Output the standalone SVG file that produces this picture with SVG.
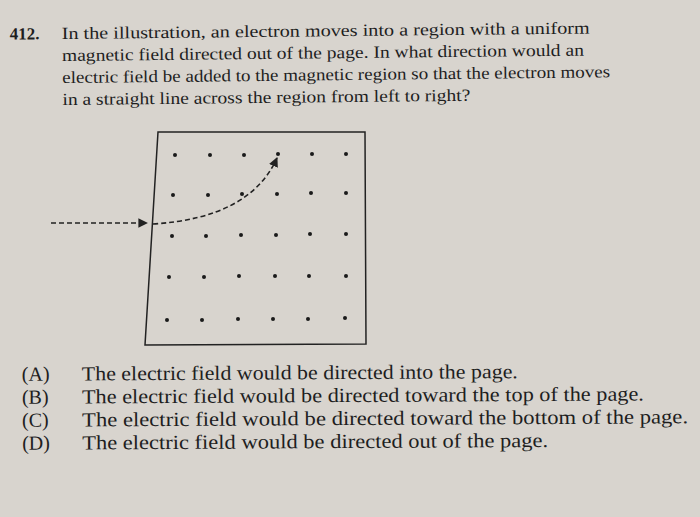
<svg xmlns="http://www.w3.org/2000/svg" width="700" height="517" viewBox="0 0 700 517">
<defs>
<style>
.q{font-family:"Liberation Serif",serif;font-size:17px;fill:#1e1e1e}
.a{font-family:"Liberation Serif",serif;font-size:20px;fill:#1e1e1e}
.d{fill:#1a1a1a}
.dash{fill:none;stroke:#222;stroke-width:1.6;stroke-dasharray:5,3}
</style>
<marker id="ah" viewBox="0 0 10 10" refX="9" refY="5" markerWidth="6" markerHeight="6" orient="auto"><path d="M0,0L10,5L0,10z" fill="#222"/></marker>
</defs>
<rect width="700" height="517" fill="#d8d4ce"/>
<g id="question" transform="rotate(-0.6 350 60)">
<text class="q" x="10" y="36" font-weight="bold">412.</text>
<text class="q" x="62" y="36" textLength="528" lengthAdjust="spacingAndGlyphs">In the illustration, an electron moves into a region with a uniform</text>
<text class="q" x="62" y="58" textLength="522" lengthAdjust="spacingAndGlyphs">magnetic field directed out of the page. In what direction would an</text>
<text class="q" x="62" y="80" textLength="548" lengthAdjust="spacingAndGlyphs">electric field be added to the magnetic region so that the electron moves</text>
<text class="q" x="62" y="102" textLength="408" lengthAdjust="spacingAndGlyphs">in a straight line across the region from left to right?</text>
</g>
<g id="region">
<polygon points="158,132 365,132 366,344 145,345" fill="none" stroke="#222" stroke-width="1.5"/>
<g class="d">
<circle cx="175" cy="155" r="2"/><circle cx="210" cy="155" r="2"/><circle cx="244" cy="155" r="2"/><circle cx="278" cy="154" r="2"/><circle cx="312" cy="154" r="2"/><circle cx="346" cy="154" r="2"/>
<circle cx="173" cy="195" r="2"/><circle cx="208" cy="195" r="2"/><circle cx="242" cy="194" r="2"/><circle cx="277" cy="194" r="2"/><circle cx="311" cy="193" r="2"/><circle cx="346" cy="193" r="2"/>
<circle cx="172" cy="236" r="2"/><circle cx="206" cy="236" r="2"/><circle cx="241" cy="235" r="2"/><circle cx="276" cy="235" r="2"/><circle cx="310" cy="234" r="2"/><circle cx="346" cy="234" r="2"/>
<circle cx="169" cy="277" r="2"/><circle cx="204" cy="277" r="2"/><circle cx="239" cy="276" r="2"/><circle cx="275" cy="276" r="2"/><circle cx="309" cy="276" r="2"/><circle cx="346" cy="276" r="2"/>
<circle cx="167" cy="320" r="2"/><circle cx="202" cy="320" r="2"/><circle cx="238" cy="319" r="2"/><circle cx="273" cy="319" r="2"/><circle cx="308" cy="319" r="2"/><circle cx="345" cy="318" r="2"/>
</g>
</g>
<g id="connectors">
<path class="dash" d="M51,223 L147,223" marker-end="url(#ah)"/>
<path class="dash" d="M153,224 Q250,218 277,158" marker-end="url(#ah)"/>
</g>
<g id="answers" transform="rotate(-0.3 350 410)">
<text class="a" x="22" y="379">(A)</text><text class="a" x="82" y="379" textLength="436" lengthAdjust="spacingAndGlyphs">The electric field would be directed into the page.</text>
<text class="a" x="22" y="402">(B)</text><text class="a" x="82" y="402" textLength="562" lengthAdjust="spacingAndGlyphs">The electric field would be directed toward the top of the page.</text>
<text class="a" x="22" y="425">(C)</text><text class="a" x="82" y="425" textLength="606" lengthAdjust="spacingAndGlyphs">The electric field would be directed toward the bottom of the page.</text>
<text class="a" x="22" y="448">(D)</text><text class="a" x="82" y="448" textLength="466" lengthAdjust="spacingAndGlyphs">The electric field would be directed out of the page.</text>
</g>
</svg>
